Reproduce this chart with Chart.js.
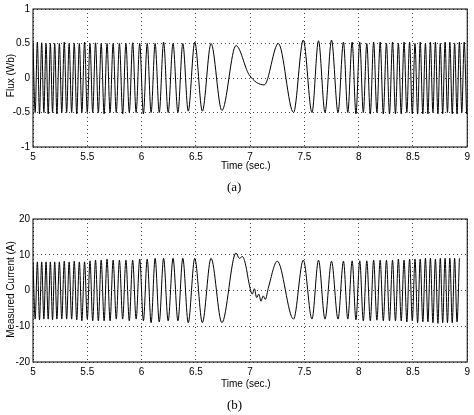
<!DOCTYPE html>
<html><head><meta charset="utf-8">
<script src="https://cdn.jsdelivr.net/npm/chart.js@4"></script>
<style>
body{margin:0;background:#fff;width:474px;height:415px;position:relative;overflow:hidden;font-family:"Liberation Sans",Arial,sans-serif}
canvas{position:absolute;left:0}
.t{position:absolute;font-size:10px;color:#000;white-space:nowrap}
.c{position:absolute;font-family:"Liberation Serif","Times New Roman",serif;font-size:13px}
.r{position:absolute;font-size:10px;transform:rotate(-90deg);transform-origin:center;white-space:nowrap}
</style></head><body>
<div style="position:absolute;left:0;top:0;width:474px;height:175px"><canvas id="a"></canvas></div>
<div style="position:absolute;left:0;top:210px;width:474px;height:178px"><canvas id="b"></canvas></div>
<div class="t" style="left:221px;top:160px">Time (sec.)</div>
<div class="c" style="left:227px;top:179px">(a)</div>
<div class="r" style="left:-20px;top:70px;width:60px;text-align:center">Flux (Wb)</div>
<div class="t" style="left:221px;top:378px">Time (sec.)</div>
<div class="c" style="left:227px;top:397px">(b)</div>
<div class="r" style="left:-45px;top:284px;width:110px;text-align:center">Measured Current (A)</div>
<script>
const xTicks=[5,5.5,6,6.5,7,7.5,8,8.5,9];
const fluxTicks=[-1,-0.5,0,0.5,1];
const currTicks=[-20,-10,0,10,20];
const fluxTimes=[5.00,5.02,5.04,5.06,5.08,5.10,5.12,5.14,5.16,5.18,5.20,5.22,5.243,5.265,5.288,5.31,5.333,5.356,5.38,5.403,5.427,5.45,5.475,5.50,5.525,5.55,5.576,5.602,5.628,5.655,5.682,5.71,5.738,5.767,5.796,5.826,5.856,5.887,5.918,5.95,5.983,6.017,6.052,6.088,6.125,6.163,6.203,6.245,6.29,6.335,6.38,6.43,6.49,6.56,6.64,6.74,6.87,6.99,7.13,7.26,7.40,7.49,7.57,7.63,7.69,7.75,7.81,7.86,7.90,7.94,7.975,8.01,8.043,8.075,8.107,8.138,8.168,8.198,8.227,8.256,8.284,8.312,8.339,8.366,8.392,8.418,8.444,8.469,8.494,8.519,8.543,8.567,8.591,8.615,8.638,8.661,8.684,8.707,8.73,8.752,8.774,8.796,8.818,8.84,8.862,8.884,8.906,8.928,8.95,8.972,8.994];
const fluxVals=[0.5,-0.5,0.52,-0.52,0.51,-0.5,0.5,-0.52,0.5,-0.5,0.5,-0.52,0.5,-0.5,0.52,-0.5,0.5,-0.5,0.5,-0.52,0.5,-0.5,0.52,-0.5,0.5,-0.5,0.51,-0.5,0.5,-0.52,0.5,-0.5,0.5,-0.5,0.5,-0.52,0.5,-0.5,0.51,-0.5,0.5,-0.52,0.5,-0.5,0.5,-0.5,0.52,-0.5,0.5,-0.5,0.5,-0.48,0.52,-0.48,0.5,-0.47,0.47,0.05,-0.1,0.5,-0.5,0.55,-0.5,0.54,-0.5,0.55,-0.5,0.52,-0.5,0.52,-0.52,0.52,-0.5,0.5,-0.52,0.52,-0.5,0.52,-0.52,0.5,-0.52,0.52,-0.52,0.5,-0.52,0.52,-0.5,0.52,-0.52,0.5,-0.52,0.52,-0.52,0.5,-0.52,0.52,-0.5,0.52,-0.52,0.5,-0.52,0.52,-0.5,0.52,-0.52,0.5,-0.52,0.52,-0.5,0.52,-0.52];
const currTimes=[5.00,5.02,5.04,5.06,5.08,5.10,5.12,5.14,5.16,5.18,5.20,5.22,5.243,5.265,5.288,5.31,5.333,5.356,5.38,5.403,5.427,5.45,5.475,5.50,5.525,5.55,5.576,5.602,5.628,5.655,5.682,5.71,5.738,5.767,5.796,5.826,5.856,5.887,5.918,5.95,5.983,6.017,6.052,6.088,6.125,6.163,6.203,6.245,6.29,6.335,6.38,6.43,6.49,6.56,6.64,6.74,6.87,6.9,6.93,6.96,6.99,7.02,7.04,7.06,7.08,7.10,7.12,7.14,7.17,7.25,7.40,7.49,7.57,7.63,7.69,7.75,7.81,7.86,7.90,7.94,7.975,8.01,8.043,8.075,8.107,8.138,8.168,8.198,8.227,8.256,8.284,8.312,8.339,8.366,8.392,8.418,8.444,8.469,8.494,8.519,8.543,8.567,8.591,8.615,8.638,8.661,8.684,8.707,8.73,8.752,8.774,8.796,8.818,8.84,8.862,8.884,8.906,8.928,8.95,8.972,8.994];
const currVals=[8,-8,8,-8.2,8,-8,8,-8,8,-8.2,8,-8,8,-8,8.2,-8,8,-8,8.2,-8.2,8,-8.5,8,-8,8.3,-8.5,8.5,-8.5,8.5,-8.5,8.8,-8.5,8.5,-8,8.5,-8,8.5,-8.5,8.5,-8,8.8,-8.5,8.8,-9,9,-8.8,9,-8.5,9,-8.5,9,-9,9,-9,9,-9,10.5,9,9.5,7,2,-1,0.5,-2,-1,-3,-1.5,-2.5,1,8.2,-8,8.5,-8,8.5,-8,8.2,-8,8.2,-8,8.3,-8.2,8.3,-8.5,8.3,-8.5,8.5,-8.3,8.5,-8.5,8.5,-8.5,8.5,-8.5,8.8,-8.5,8.5,-8.8,8.8,-8.5,8.8,-9,8.8,-8.8,9,-8.8,9,-9,8.8,-9.2,9,-9,9,-9,9,-9,9,-8.8,9];
function fmt(v){return String(Math.round(v*100)/100);}
function mk(id,times,vals,ticks,h){
  const border={id:'bx',afterDraw(c){const a=c.chartArea,x=c.ctx;x.save();x.strokeStyle='#000';x.lineWidth=1;x.strokeRect(a.left,a.top,a.right-a.left,a.bottom-a.top);x.restore();}};
  const grid={color:'#444',drawTicks:false};
  new Chart(document.getElementById(id),{type:'line',
    data:{datasets:[{data:times.map((t,i)=>({x:t,y:vals[i]})),borderColor:'#000',borderWidth:1,pointRadius:0,cubicInterpolationMode:'monotone'}]},
    options:{responsive:true,maintainAspectRatio:false,animation:false,
      layout:{padding:{top:5,right:6}},
      plugins:{legend:{display:false},tooltip:{enabled:false}},
      scales:{
        x:{type:'linear',min:5,max:9,afterBuildTicks(s){s.ticks=xTicks.map(v=>({value:v}));},afterFit(s){s.height=h;},
           grid:grid,border:{display:false,dash:[1,3]},
           ticks:{color:'#000',font:{size:10,family:'Liberation Sans'},padding:4,maxRotation:0,callback:fmt}},
        y:{min:ticks[0],max:ticks[ticks.length-1],afterBuildTicks(s){s.ticks=ticks.map(v=>({value:v}));},afterFit(s){s.width=33;},
           grid:grid,border:{display:false,dash:[1,3]},
           ticks:{color:'#000',font:{size:10,family:'Liberation Sans'},padding:3,callback:fmt}}
      }},plugins:[border]});
}
mk('a',fluxTimes,fluxVals,fluxTicks,28);
mk('b',currTimes,currVals,currTicks,26);
</script></body></html>
